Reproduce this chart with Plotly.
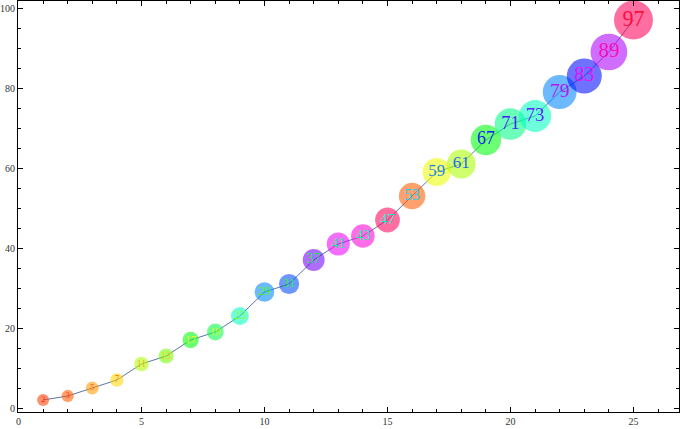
import colorsys
import plotly.graph_objects as go

# data
positions = list(range(1, 26))
primes = [2, 3, 5, 7, 11, 13, 17, 19, 23, 29, 31, 37, 41, 43, 47,
          53, 59, 61, 67, 71, 73, 79, 83, 89, 97]
labels = [str(p) for p in primes]
x_ticks = [0, 5, 10, 15, 20, 25]
y_ticks = [0, 20, 40, 60, 80, 100]


def hue(h, a=1.0):
    r, g, b = colorsys.hsv_to_rgb(h % 1.0, 1.0, 1.0)
    return f"rgba({int(r*255)},{int(g*255)},{int(b*255)},{a})"


bubble_colors = [hue(p / 50.0, 0.82) for p in primes]
text_colors = [hue(p / 100.0, 0.9) for p in primes]
sizes = [12 + 0.284 * (p - 2) for p in primes]
font_sizes = [8.5 + 0.14 * p for p in primes]

fig = go.Figure()
fig.add_trace(go.Scatter(x=positions, y=primes, mode="lines",
                         line=dict(color="#5a78aa", width=1),
                         hoverinfo="skip", showlegend=False))
fig.add_trace(go.Scatter(x=positions, y=primes, mode="markers",
                         marker=dict(size=sizes, color=bubble_colors,
                                     line=dict(width=0)),
                         showlegend=False))
fig.add_trace(go.Scatter(x=positions, y=primes, mode="text", text=labels,
                         textposition="middle center",
                         textfont=dict(family="Liberation Serif",
                                       size=font_sizes, color=text_colors),
                         showlegend=False))

axis_common = dict(showline=True, linecolor="black", linewidth=1,
                   mirror="ticks", ticks="inside", ticklen=5,
                   tickcolor="black", showgrid=False, zeroline=False,
                   tickfont=dict(family="Liberation Serif", size=10,
                                 color="#333333"))
fig.update_xaxes(range=[-0.02, 26.85], tickvals=x_ticks,
                 ticktext=[str(v) for v in x_ticks],
                 minor=dict(ticks="inside", ticklen=3, dtick=1,
                            tick0=0, tickcolor="black", showgrid=False),
                 **axis_common)
fig.update_yaxes(range=[-1, 101.75], tickvals=y_ticks,
                 ticktext=[str(v) for v in y_ticks],
                 minor=dict(ticks="inside", ticklen=3, dtick=5,
                            tick0=0, tickcolor="black", showgrid=False),
                 **axis_common)
fig.update_layout(width=685, height=429,
                  margin=dict(l=18, r=6, t=1, b=17),
                  plot_bgcolor="white", paper_bgcolor="white")
fig.write_html("out.html", config={"displayModeBar": False},
               post_script="document.body.style.margin='0px';"
                           "document.body.style.overflow='hidden';")
